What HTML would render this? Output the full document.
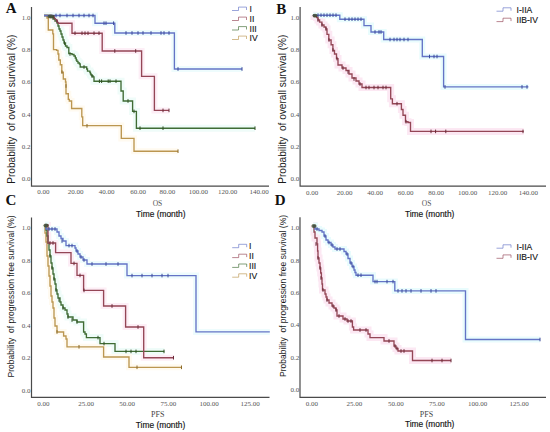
<!DOCTYPE html><html><head><meta charset="utf-8"><style>html,body{margin:0;padding:0;background:#fff;width:550px;height:432px;overflow:hidden}svg{display:block}</style></head><body>
<svg width="550" height="432" viewBox="0 0 550 432">
<rect width="550" height="432" fill="#fff"/>
<text x="5.8" y="13.2" font-family="Liberation Serif" font-size="15" text-anchor="start" fill="#111" font-weight="bold" >A</text>
<path d="M31.5,6.9V186.1H269" fill="none" stroke="#4a4a4a" stroke-width="1.2"/>
<text x="30.6" y="19.9" font-family="Liberation Serif" font-size="7" text-anchor="end" fill="#555" font-weight="normal" >1.0</text>
<text x="30.6" y="52.1" font-family="Liberation Serif" font-size="7" text-anchor="end" fill="#555" font-weight="normal" >0.8</text>
<text x="30.6" y="84.4" font-family="Liberation Serif" font-size="7" text-anchor="end" fill="#555" font-weight="normal" >0.6</text>
<text x="30.6" y="116.7" font-family="Liberation Serif" font-size="7" text-anchor="end" fill="#555" font-weight="normal" >0.4</text>
<text x="30.6" y="148.9" font-family="Liberation Serif" font-size="7" text-anchor="end" fill="#555" font-weight="normal" >0.2</text>
<text x="30.6" y="181.0" font-family="Liberation Serif" font-size="7" text-anchor="end" fill="#555" font-weight="normal" >0.0</text>
<text x="43.4" y="194.4" font-family="Liberation Serif" font-size="7" text-anchor="middle" fill="#555" font-weight="normal" >0.00</text>
<text x="75.5" y="194.4" font-family="Liberation Serif" font-size="7" text-anchor="middle" fill="#555" font-weight="normal" >20.00</text>
<text x="106.7" y="194.4" font-family="Liberation Serif" font-size="7" text-anchor="middle" fill="#555" font-weight="normal" >40.00</text>
<text x="138" y="194.4" font-family="Liberation Serif" font-size="7" text-anchor="middle" fill="#555" font-weight="normal" >60.00</text>
<text x="167.3" y="194.4" font-family="Liberation Serif" font-size="7" text-anchor="middle" fill="#555" font-weight="normal" >80.00</text>
<text x="198.3" y="194.4" font-family="Liberation Serif" font-size="7" text-anchor="middle" fill="#555" font-weight="normal" >100.00</text>
<text x="227.5" y="194.4" font-family="Liberation Serif" font-size="7" text-anchor="middle" fill="#555" font-weight="normal" >120.00</text>
<text x="259" y="194.4" font-family="Liberation Serif" font-size="7" text-anchor="middle" fill="#555" font-weight="normal" >140.00</text>
<text x="157.5" y="206" font-family="Liberation Serif" font-size="7.5" text-anchor="middle" fill="#555" font-weight="normal" >OS</text>
<text x="136" y="216.5" font-family="Liberation Sans" font-size="8.4" text-anchor="start" fill="#111" font-weight="normal" stroke="#111" stroke-width="0.15">Time (month)</text>
<text transform="translate(15.2,183.8) rotate(-90)" x="0" y="0" font-family="Liberation Sans" font-size="10.1" fill="#1a1a1a">Probability&#160; of overall survival (%)</text>
<path d="M232,10.5H238.5V7.1H246.5V10.0" fill="none" stroke="#6474c6" stroke-width="0.9" opacity="0.72"/>
<text x="249.5" y="12.2" font-family="Liberation Sans" font-size="8.6" text-anchor="start" fill="#111" font-weight="normal" stroke="#111" stroke-width="0.12">I</text>
<path d="M232,20.5H238.5V17.1H246.5V20.0" fill="none" stroke="#944656" stroke-width="0.9" opacity="0.72"/>
<text x="249.5" y="22.2" font-family="Liberation Sans" font-size="8.6" text-anchor="start" fill="#111" font-weight="normal" stroke="#111" stroke-width="0.12">II</text>
<path d="M232,30H238.5V26.6H246.5V29.5" fill="none" stroke="#3f6c34" stroke-width="0.9" opacity="0.72"/>
<text x="249.5" y="31.7" font-family="Liberation Sans" font-size="8.6" text-anchor="start" fill="#111" font-weight="normal" stroke="#111" stroke-width="0.12">III</text>
<path d="M232,39.5H238.5V36.1H246.5V39.0" fill="none" stroke="#bb9650" stroke-width="0.9" opacity="0.72"/>
<text x="249.5" y="41.2" font-family="Liberation Sans" font-size="8.6" text-anchor="start" fill="#111" font-weight="normal" stroke="#111" stroke-width="0.12">IV</text>
<path d="M44,15.5H50V17H53V19H55V21H57V23H58V26H59V29H60V31H61V34H62V37H63V40H64V43H65.5V46H67V47.5H68.8V53.6H72V54.5H74V56H75.3V58H76.2V60H76.9V61.4H78V63H79.4V64H80.2V67H86.7V69H87.5V71.1H89.9V72.5H90.5V74H91.1V75.1H92V76H93.1V76.8H94V81.2H121V91H123.2V101H132.6V111.4H136.4V128.2H255" fill="none" stroke="#effcf9" stroke-width="7" stroke-linejoin="miter"/>
<path d="M44,15.5H47V18H48.3V30H52.8V33.8H53.5V49.6H56.6V50.4H58V54H58.8V60H60.3V64.7H61.8V72.2H63.3V79H65.5V82H66V93.7H68.3V99.3H69.3V101H71.6V108.5H81.8V116.9H82.7V125.6H121.3V138.4H134V151.2H178" fill="none" stroke="#fffaf0" stroke-width="6" stroke-linejoin="miter"/>
<path d="M44,15.5H52L56,19.5L58.5,23.2H72V33.2H102.2V51H141.6V76.3H154.4V110.4H169" fill="none" stroke="#fdeef6" stroke-width="6" stroke-linejoin="miter"/>
<path d="M44,15.5H95V23.2H114.8V33H174.4V69H242" fill="none" stroke="#eefcfd" stroke-width="6" stroke-linejoin="miter"/>
<path d="M44,15.5H47V18H48.3V30H52.8V33.8H53.5V49.6H56.6V50.4H58V54H58.8V60H60.3V64.7H61.8V72.2H63.3V79H65.5V82H66V93.7H68.3V99.3H69.3V101H71.6V108.5H81.8V116.9H82.7V125.6H121.3V138.4H134V151.2H178" fill="none" stroke="#bb9650" stroke-width="1.35" stroke-linejoin="miter" stroke-linecap="butt"/>
<path d="M44,15.5H50V17H53V19H55V21H57V23H58V26H59V29H60V31H61V34H62V37H63V40H64V43H65.5V46H67V47.5H68.8V53.6H72V54.5H74V56H75.3V58H76.2V60H76.9V61.4H78V63H79.4V64H80.2V67H86.7V69H87.5V71.1H89.9V72.5H90.5V74H91.1V75.1H92V76H93.1V76.8H94V81.2H121V91H123.2V101H132.6V111.4H136.4V128.2H255" fill="none" stroke="#3f6c34" stroke-width="1.35" stroke-linejoin="miter" stroke-linecap="butt"/>
<path d="M44,15.5H52L56,19.5L58.5,23.2H72V33.2H102.2V51H141.6V76.3H154.4V110.4H169" fill="none" stroke="#944656" stroke-width="1.35" stroke-linejoin="miter" stroke-linecap="butt"/>
<path d="M44,15.5H95V23.2H114.8V33H174.4V69H242" fill="none" stroke="#6474c6" stroke-width="1.35" stroke-linejoin="miter" stroke-linecap="butt"/>
<path d="M56,13.7V17.3 M60,13.7V17.3 M67,13.7V17.3 M73,13.7V17.3 M79,13.7V17.3 M84,13.7V17.3 M89,13.7V17.3 M93,13.7V17.3 M104,21.4V25.0 M106,21.4V25.0 M113.6,21.4V25.0 M126,31.2V34.8 M132,31.2V34.8 M138,31.2V34.8 M143,31.2V34.8 M151,31.2V34.8 M161,31.2V34.8 M164,31.2V34.8 M169,31.2V34.8 M178,67.2V70.8 M242,67.2V70.8" fill="none" stroke="#3a4a9a" stroke-width="1.0"/>
<path d="M75,31.400000000000002V35.0 M82,31.400000000000002V35.0 M85,31.400000000000002V35.0 M88,31.400000000000002V35.0 M94,31.400000000000002V35.0 M99,31.400000000000002V35.0 M114.8,49.2V52.8 M135.7,49.2V52.8 M163,108.60000000000001V112.2 M169,108.60000000000001V112.2 M54,15.2V18.8 M57,19.2V22.8" fill="none" stroke="#6a2a38" stroke-width="1.0"/>
<path d="M99.4,79.4V83.0 M101.6,79.4V83.0 M108.2,79.4V83.0 M110,79.4V83.0 M116,79.4V83.0 M128,99.2V102.8 M134,109.60000000000001V113.2 M140,126.39999999999999V130.0 M163,126.39999999999999V130.0 M255,126.39999999999999V130.0 M64.5,41.2V44.8 M70,52.2V55.8 M84,65.2V68.8 M92,74.2V77.8" fill="none" stroke="#2f4f22" stroke-width="1.0"/>
<path d="M87,124.0V127.6 M178,149.39999999999998V153.0 M62,70.4V74.0 M66,84.2V87.8" fill="none" stroke="#8a6a2a" stroke-width="1.0"/>
<text x="276.2" y="14.2" font-family="Liberation Serif" font-size="15" text-anchor="start" fill="#111" font-weight="bold" >B</text>
<path d="M300.1,7V186.2H546" fill="none" stroke="#4a4a4a" stroke-width="1.2"/>
<text x="299.2" y="19.7" font-family="Liberation Serif" font-size="7" text-anchor="end" fill="#555" font-weight="normal" >1.0</text>
<text x="299.2" y="51.9" font-family="Liberation Serif" font-size="7" text-anchor="end" fill="#555" font-weight="normal" >0.8</text>
<text x="299.2" y="84.2" font-family="Liberation Serif" font-size="7" text-anchor="end" fill="#555" font-weight="normal" >0.6</text>
<text x="299.2" y="116.5" font-family="Liberation Serif" font-size="7" text-anchor="end" fill="#555" font-weight="normal" >0.4</text>
<text x="299.2" y="148.8" font-family="Liberation Serif" font-size="7" text-anchor="end" fill="#555" font-weight="normal" >0.2</text>
<text x="299.2" y="181.20000000000002" font-family="Liberation Serif" font-size="7" text-anchor="end" fill="#555" font-weight="normal" >0.0</text>
<text x="312" y="194.8" font-family="Liberation Serif" font-size="7" text-anchor="middle" fill="#555" font-weight="normal" >0.00</text>
<text x="344.5" y="194.8" font-family="Liberation Serif" font-size="7" text-anchor="middle" fill="#555" font-weight="normal" >20.00</text>
<text x="375.2" y="194.8" font-family="Liberation Serif" font-size="7" text-anchor="middle" fill="#555" font-weight="normal" >40.00</text>
<text x="405.6" y="194.8" font-family="Liberation Serif" font-size="7" text-anchor="middle" fill="#555" font-weight="normal" >60.00</text>
<text x="436" y="194.8" font-family="Liberation Serif" font-size="7" text-anchor="middle" fill="#555" font-weight="normal" >80.00</text>
<text x="467.5" y="194.8" font-family="Liberation Serif" font-size="7" text-anchor="middle" fill="#555" font-weight="normal" >100.00</text>
<text x="497.5" y="194.8" font-family="Liberation Serif" font-size="7" text-anchor="middle" fill="#555" font-weight="normal" >120.00</text>
<text x="528.3" y="194.8" font-family="Liberation Serif" font-size="7" text-anchor="middle" fill="#555" font-weight="normal" >140.00</text>
<text x="426.6" y="205.5" font-family="Liberation Serif" font-size="7.5" text-anchor="middle" fill="#555" font-weight="normal" >OS</text>
<text x="404.9" y="216.5" font-family="Liberation Sans" font-size="8.4" text-anchor="start" fill="#111" font-weight="normal" stroke="#111" stroke-width="0.15">Time (month)</text>
<text transform="translate(286.4,183.8) rotate(-90)" x="0" y="0" font-family="Liberation Sans" font-size="10.1" fill="#1a1a1a">Probability&#160; of overall survival (%)</text>
<path d="M496.5,11.2H503.0V7.799999999999999H511.0V10.7" fill="none" stroke="#6474c6" stroke-width="0.9" opacity="0.72"/>
<text x="516.5" y="12.899999999999999" font-family="Liberation Sans" font-size="8.6" text-anchor="start" fill="#111" font-weight="normal" stroke="#111" stroke-width="0.12">I-IIA</text>
<path d="M496.5,21.6H503.0V18.200000000000003H511.0V21.1" fill="none" stroke="#944656" stroke-width="0.9" opacity="0.72"/>
<text x="516.5" y="23.3" font-family="Liberation Sans" font-size="8.6" text-anchor="start" fill="#111" font-weight="normal" stroke="#111" stroke-width="0.12">IIB-IV</text>
<path d="M313,15.2H314V16.5H316.7V17.5H318V20H319.6V22.1H321.9V25H324V27H325.9V29H327V34.3H328.8V40H331.1V44.7H332.9V50.5H334.5V54H336.5V58.6H338V65H342V68H346V70.5H349V74H352V78H356V81H359V84H362V87.5H390.7V98.8H392.4V103.7H401.4V109.5H403V115.2H405.5V121.7H408V122.5H410.5V131.4H523.7" fill="none" stroke="#fce8f3" stroke-width="7" stroke-linejoin="miter"/>
<path d="M313,15.2H339.8V19.2H364V25.6H371V32H383.7V39.5H422.3V56.5H443.6V86.9H528.4" fill="none" stroke="#e9fcfd" stroke-width="6" stroke-linejoin="miter"/>
<path d="M313,15.2H314V16.5H316.7V17.5H318V20H319.6V22.1H321.9V25H324V27H325.9V29H327V34.3H328.8V40H331.1V44.7H332.9V50.5H334.5V54H336.5V58.6H338V65H342V68H346V70.5H349V74H352V78H356V81H359V84H362V87.5H390.7V98.8H392.4V103.7H401.4V109.5H403V115.2H405.5V121.7H408V122.5H410.5V131.4H523.7" fill="none" stroke="#944656" stroke-width="1.35" stroke-linejoin="miter" stroke-linecap="butt"/>
<path d="M313,15.2H339.8V19.2H364V25.6H371V32H383.7V39.5H422.3V56.5H443.6V86.9H528.4" fill="none" stroke="#6474c6" stroke-width="1.35" stroke-linejoin="miter" stroke-linecap="butt"/>
<path d="M318,13.399999999999999V17.0 M321,13.399999999999999V17.0 M324,13.399999999999999V17.0 M327,13.399999999999999V17.0 M330,13.399999999999999V17.0 M333,13.399999999999999V17.0 M336,13.399999999999999V17.0 M345,17.4V21.0 M349,17.4V21.0 M352,17.4V21.0 M355,17.4V21.0 M358,17.4V21.0 M361,17.4V21.0 M375,30.2V33.8 M379,30.2V33.8 M381,30.2V33.8 M390,37.7V41.3 M394,37.7V41.3 M397,37.7V41.3 M400,37.7V41.3 M404,37.7V41.3 M408,37.7V41.3 M429.5,54.7V58.3 M434,54.7V58.3 M437,54.7V58.3 M445,85.10000000000001V88.7 M522,85.10000000000001V88.7 M527,85.10000000000001V88.7" fill="none" stroke="#3a4a9a" stroke-width="1.0"/>
<path d="M318,18.2V21.8 M322,23.2V26.8 M326,27.2V30.8 M329,38.2V41.8 M333,48.2V51.8 M337,56.800000000000004V60.4 M343,66.2V69.8 M348,70.2V73.8 M354,77.2V80.8 M360,82.2V85.8 M366,85.7V89.3 M369,85.7V89.3 M374,85.7V89.3 M378,85.7V89.3 M383,85.7V89.3 M386,85.7V89.3 M397,101.9V105.5 M431,129.6V133.20000000000002 M435.6,129.6V133.20000000000002 M445.8,129.6V133.20000000000002 M523,129.6V133.20000000000002 M406,119.9V123.5" fill="none" stroke="#6a2a38" stroke-width="1.0"/>
<text x="5.6" y="204.8" font-family="Liberation Serif" font-size="15" text-anchor="start" fill="#111" font-weight="bold" >C</text>
<path d="M31.5,217.4V397.4H269.5" fill="none" stroke="#4a4a4a" stroke-width="1.2"/>
<text x="30.6" y="230.4" font-family="Liberation Serif" font-size="7" text-anchor="end" fill="#555" font-weight="normal" >1.0</text>
<text x="30.6" y="262.9" font-family="Liberation Serif" font-size="7" text-anchor="end" fill="#555" font-weight="normal" >0.8</text>
<text x="30.6" y="295.4" font-family="Liberation Serif" font-size="7" text-anchor="end" fill="#555" font-weight="normal" >0.6</text>
<text x="30.6" y="327.7" font-family="Liberation Serif" font-size="7" text-anchor="end" fill="#555" font-weight="normal" >0.4</text>
<text x="30.6" y="360.2" font-family="Liberation Serif" font-size="7" text-anchor="end" fill="#555" font-weight="normal" >0.2</text>
<text x="30.6" y="392.7" font-family="Liberation Serif" font-size="7" text-anchor="end" fill="#555" font-weight="normal" >0.0</text>
<text x="43.3" y="406.2" font-family="Liberation Serif" font-size="7" text-anchor="middle" fill="#555" font-weight="normal" >0.00</text>
<text x="86" y="406.2" font-family="Liberation Serif" font-size="7" text-anchor="middle" fill="#555" font-weight="normal" >25.00</text>
<text x="127.2" y="406.2" font-family="Liberation Serif" font-size="7" text-anchor="middle" fill="#555" font-weight="normal" >50.00</text>
<text x="168.3" y="406.2" font-family="Liberation Serif" font-size="7" text-anchor="middle" fill="#555" font-weight="normal" >75.00</text>
<text x="209.2" y="406.2" font-family="Liberation Serif" font-size="7" text-anchor="middle" fill="#555" font-weight="normal" >100.00</text>
<text x="250" y="406.2" font-family="Liberation Serif" font-size="7" text-anchor="middle" fill="#555" font-weight="normal" >125.00</text>
<text x="157.7" y="417" font-family="Liberation Serif" font-size="8" text-anchor="middle" fill="#444" font-weight="normal" >PFS</text>
<text x="135.8" y="428" font-family="Liberation Sans" font-size="8.4" text-anchor="start" fill="#111" font-weight="normal" stroke="#111" stroke-width="0.15">Time (month)</text>
<text transform="translate(14.4,377.4) rotate(-90)" x="0" y="0" font-family="Liberation Sans" font-size="8.5" fill="#1a1a1a">Probability&#160; of progression free survival (%)</text>
<path d="M232.2,247.7H238.7V244.29999999999998H246.7V247.2" fill="none" stroke="#6474c6" stroke-width="0.9" opacity="0.72"/>
<text x="249" y="249.39999999999998" font-family="Liberation Sans" font-size="8.6" text-anchor="start" fill="#111" font-weight="normal" stroke="#111" stroke-width="0.12">I</text>
<path d="M232.2,257.6H238.7V254.20000000000002H246.7V257.1" fill="none" stroke="#944656" stroke-width="0.9" opacity="0.72"/>
<text x="249" y="259.3" font-family="Liberation Sans" font-size="8.6" text-anchor="start" fill="#111" font-weight="normal" stroke="#111" stroke-width="0.12">II</text>
<path d="M232.2,267.4H238.7V264.0H246.7V266.9" fill="none" stroke="#3f6c34" stroke-width="0.9" opacity="0.72"/>
<text x="249" y="269.09999999999997" font-family="Liberation Sans" font-size="8.6" text-anchor="start" fill="#111" font-weight="normal" stroke="#111" stroke-width="0.12">III</text>
<path d="M232.2,277.2H238.7V273.8H246.7V276.7" fill="none" stroke="#bb9650" stroke-width="0.9" opacity="0.72"/>
<text x="249" y="278.9" font-family="Liberation Sans" font-size="8.6" text-anchor="start" fill="#111" font-weight="normal" stroke="#111" stroke-width="0.12">IV</text>
<path d="M45,225H46V230H47V236H48V243H49V250H50V256H51V263H52V268H53V274H54V279H55V284H56V290H57V294H58V298H60V302H61V305H63V308H65V310H67V314H68V317H73V320H77V322H83.6V332H85V334H86.4V337.6H100V343.6H115V351.4H164.3" fill="none" stroke="#effcf9" stroke-width="7" stroke-linejoin="miter"/>
<path d="M45,225V233H46V242H47V256H48V266H49V276H50V286H51V296H52V302H53V308H54V318H55V326H57V332H63.6V336H66V339H67V346.8H103.6V357H129V367.3H181.5" fill="none" stroke="#fffaf0" stroke-width="6" stroke-linejoin="miter"/>
<path d="M45,225H48V243H55.6V252.6H71V263.4H77V275.4H83.6V290.4H103.6V306H125.6V327H143.7V357.7H173.5" fill="none" stroke="#fdeef6" stroke-width="6" stroke-linejoin="miter"/>
<path d="M45,225H46V229H57V232H59V236H61V238.5H63V241H66V245.6H75V248H76V251H78V254H80V257H83V260H87V264H127V275.6H196V331.9H269.8" fill="none" stroke="#eefcfd" stroke-width="6" stroke-linejoin="miter"/>
<path d="M45,225V233H46V242H47V256H48V266H49V276H50V286H51V296H52V302H53V308H54V318H55V326H57V332H63.6V336H66V339H67V346.8H103.6V357H129V367.3H181.5" fill="none" stroke="#bb9650" stroke-width="1.35" stroke-linejoin="miter" stroke-linecap="butt"/>
<path d="M45,225H46V230H47V236H48V243H49V250H50V256H51V263H52V268H53V274H54V279H55V284H56V290H57V294H58V298H60V302H61V305H63V308H65V310H67V314H68V317H73V320H77V322H83.6V332H85V334H86.4V337.6H100V343.6H115V351.4H164.3" fill="none" stroke="#3f6c34" stroke-width="1.35" stroke-linejoin="miter" stroke-linecap="butt"/>
<path d="M45,225H48V243H55.6V252.6H71V263.4H77V275.4H83.6V290.4H103.6V306H125.6V327H143.7V357.7H173.5" fill="none" stroke="#944656" stroke-width="1.35" stroke-linejoin="miter" stroke-linecap="butt"/>
<path d="M45,225H46V229H57V232H59V236H61V238.5H63V241H66V245.6H75V248H76V251H78V254H80V257H83V260H87V264H127V275.6H196V331.9H269.8" fill="none" stroke="#6474c6" stroke-width="1.35" stroke-linejoin="miter" stroke-linecap="butt"/>
<path d="M49,227.2V230.8 M52,227.2V230.8 M55,227.2V230.8 M69,243.79999999999998V247.4 M72,243.79999999999998V247.4 M92,262.2V265.8 M106,262.2V265.8 M118,262.2V265.8 M132,273.8V277.40000000000003 M142,273.8V277.40000000000003 M152,273.8V277.40000000000003 M162,273.8V277.40000000000003 M168,273.8V277.40000000000003 M62,239.2V242.8 M77,249.2V252.8 M81,255.2V258.8 M84,258.2V261.8" fill="none" stroke="#3a4a9a" stroke-width="1.0"/>
<path d="M50,241.2V244.8 M53,241.2V244.8 M74,261.59999999999997V265.2 M80,273.59999999999997V277.2 M84,288.59999999999997V292.2 M112,304.2V307.8 M138,325.2V328.8 M173.5,355.9V359.5" fill="none" stroke="#6a2a38" stroke-width="1.0"/>
<path d="M50,254.2V257.8 M52,266.2V269.8 M54,277.2V280.8 M56,288.2V291.8 M59,298.2V301.8 M63,306.2V309.8 M68,315.2V318.8 M72,318.2V321.8 M77,320.2V323.8 M98,335.8V339.40000000000003 M126,349.59999999999997V353.2 M131,349.59999999999997V353.2 M136,349.59999999999997V353.2 M164,349.59999999999997V353.2 M104,341.8V345.40000000000003" fill="none" stroke="#2f4f22" stroke-width="1.0"/>
<path d="M57,330.2V333.8 M79,345.0V348.6 M137,365.5V369.1 M181.5,365.5V369.1" fill="none" stroke="#8a6a2a" stroke-width="1.0"/>
<text x="274.8" y="205.2" font-family="Liberation Serif" font-size="15" text-anchor="start" fill="#111" font-weight="bold" >D</text>
<path d="M300,217.2V397.3H546" fill="none" stroke="#4a4a4a" stroke-width="1.2"/>
<text x="299.2" y="230.4" font-family="Liberation Serif" font-size="7" text-anchor="end" fill="#555" font-weight="normal" >1.0</text>
<text x="299.2" y="262.7" font-family="Liberation Serif" font-size="7" text-anchor="end" fill="#555" font-weight="normal" >0.8</text>
<text x="299.2" y="294.9" font-family="Liberation Serif" font-size="7" text-anchor="end" fill="#555" font-weight="normal" >0.6</text>
<text x="299.2" y="327.4" font-family="Liberation Serif" font-size="7" text-anchor="end" fill="#555" font-weight="normal" >0.4</text>
<text x="299.2" y="360.0" font-family="Liberation Serif" font-size="7" text-anchor="end" fill="#555" font-weight="normal" >0.2</text>
<text x="299.2" y="392.2" font-family="Liberation Serif" font-size="7" text-anchor="end" fill="#555" font-weight="normal" >0.0</text>
<text x="311.9" y="406.0" font-family="Liberation Serif" font-size="7" text-anchor="middle" fill="#555" font-weight="normal" >0.00</text>
<text x="354.4" y="406.0" font-family="Liberation Serif" font-size="7" text-anchor="middle" fill="#555" font-weight="normal" >25.00</text>
<text x="395.9" y="406.0" font-family="Liberation Serif" font-size="7" text-anchor="middle" fill="#555" font-weight="normal" >50.00</text>
<text x="436.8" y="406.0" font-family="Liberation Serif" font-size="7" text-anchor="middle" fill="#555" font-weight="normal" >75.00</text>
<text x="477.7" y="406.0" font-family="Liberation Serif" font-size="7" text-anchor="middle" fill="#555" font-weight="normal" >100.00</text>
<text x="519.2" y="406.0" font-family="Liberation Serif" font-size="7" text-anchor="middle" fill="#555" font-weight="normal" >125.00</text>
<text x="426.5" y="417.4" font-family="Liberation Serif" font-size="8" text-anchor="middle" fill="#444" font-weight="normal" >PFS</text>
<text x="404.9" y="426.8" font-family="Liberation Sans" font-size="8.4" text-anchor="start" fill="#111" font-weight="normal" stroke="#111" stroke-width="0.15">Time (month)</text>
<text transform="translate(286.2,377.0) rotate(-90)" x="0" y="0" font-family="Liberation Sans" font-size="8.5" fill="#1a1a1a">Probability&#160; of progression free survival (%)</text>
<path d="M496.5,248.2H503.0V244.79999999999998H511.0V247.7" fill="none" stroke="#6474c6" stroke-width="0.9" opacity="0.72"/>
<text x="516.5" y="249.89999999999998" font-family="Liberation Sans" font-size="8.6" text-anchor="start" fill="#111" font-weight="normal" stroke="#111" stroke-width="0.12">I-IIA</text>
<path d="M496.5,258.3H503.0V254.9H511.0V257.8" fill="none" stroke="#944656" stroke-width="0.9" opacity="0.72"/>
<text x="516.5" y="260.0" font-family="Liberation Sans" font-size="8.6" text-anchor="start" fill="#111" font-weight="normal" stroke="#111" stroke-width="0.12">IIB-IV</text>
<path d="M313,225.6H314V232H315V238H317V244H317.6V251H318V258H319V263H320V268H320.7V273H321.4V278H322V284H322.5V290H325V294H326V297H327V300H329V303H332V306H334V308H336V310H337V316H343V319H347V321H352.4V327H353.6V330H368V334H370V337.6H384V341H394V346H396V348.5H398V351H412.5V360.5H451" fill="none" stroke="#fce8f3" stroke-width="7" stroke-linejoin="miter"/>
<path d="M313,225.6H315V229H319V230.5H322V232H324V236H326V240H328V242.5H331V245H333V247H335V249H344V251.5H346V254H348V258.5H350V263H352V266.5H354V270H355V272.5H356V275.2H373V281.6H394.8V290.9H465.5V339.5H540" fill="none" stroke="#e9fcfd" stroke-width="6" stroke-linejoin="miter"/>
<path d="M313,225.6H314V232H315V238H317V244H317.6V251H318V258H319V263H320V268H320.7V273H321.4V278H322V284H322.5V290H325V294H326V297H327V300H329V303H332V306H334V308H336V310H337V316H343V319H347V321H352.4V327H353.6V330H368V334H370V337.6H384V341H394V346H396V348.5H398V351H412.5V360.5H451" fill="none" stroke="#944656" stroke-width="1.35" stroke-linejoin="miter" stroke-linecap="butt"/>
<path d="M313,225.6H315V229H319V230.5H322V232H324V236H326V240H328V242.5H331V245H333V247H335V249H344V251.5H346V254H348V258.5H350V263H352V266.5H354V270H355V272.5H356V275.2H373V281.6H394.8V290.9H465.5V339.5H540" fill="none" stroke="#6474c6" stroke-width="1.35" stroke-linejoin="miter" stroke-linecap="butt"/>
<path d="M317,227.2V230.8 M325,234.2V237.8 M329,240.7V244.3 M332,243.2V246.8 M337,247.2V250.8 M340,247.2V250.8 M347,252.2V255.8 M351,261.2V264.8 M353,264.7V268.3 M358,273.4V277.0 M361,273.4V277.0 M375,279.8V283.40000000000003 M377,279.8V283.40000000000003 M387,279.8V283.40000000000003 M393,279.8V283.40000000000003 M398,289.09999999999997V292.7 M402,289.09999999999997V292.7 M406,289.09999999999997V292.7 M411,289.09999999999997V292.7 M421,289.09999999999997V292.7 M431,289.09999999999997V292.7 M436,289.09999999999997V292.7 M540,337.7V341.3" fill="none" stroke="#3a4a9a" stroke-width="1.0"/>
<path d="M316,242.2V245.8 M318,256.2V259.8 M320,266.2V269.8 M321,276.2V279.8 M323,288.2V291.8 M327,298.2V301.8 M333,304.2V307.8 M336,308.2V311.8 M339,314.2V317.8 M345,317.2V320.8 M348,319.2V322.8 M351,319.2V322.8 M360,328.2V331.8 M366,328.2V331.8 M389,339.2V342.8 M395,344.2V347.8 M397,346.7V350.3 M401,349.2V352.8 M404,349.2V352.8 M432,358.7V362.3 M442,358.7V362.3 M451,358.7V362.3" fill="none" stroke="#6a2a38" stroke-width="1.0"/>
<ellipse cx="51" cy="16.5" rx="3.5" ry="1.9" fill="#3f4a2a" opacity="0.8"/>
<ellipse cx="315" cy="15.6" rx="2.6" ry="1.9" fill="#3f4a2a" opacity="0.8"/>
<ellipse cx="46" cy="225.5" rx="2.6" ry="1.9" fill="#3f4a2a" opacity="0.8"/>
<ellipse cx="314" cy="226" rx="2.6" ry="1.9" fill="#3f4a2a" opacity="0.8"/>
</svg></body></html>
